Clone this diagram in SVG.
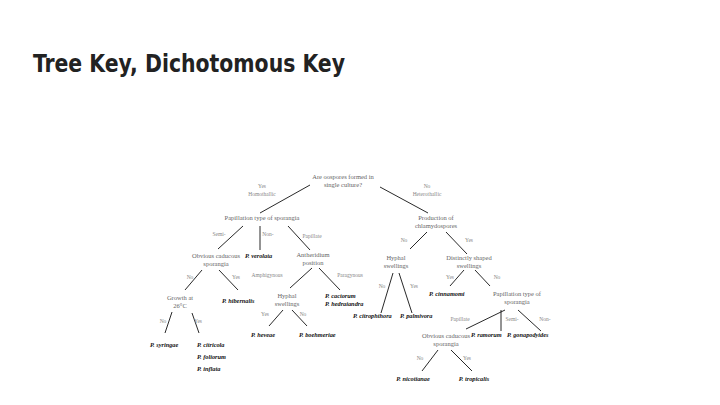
<svg xmlns="http://www.w3.org/2000/svg" width="720" height="405" viewBox="0 0 720 405">
<style>
.t{font-family:"Liberation Serif",serif;font-size:6.5px;fill:#666;text-anchor:middle}
.l{font-family:"Liberation Serif",serif;font-size:5.5px;fill:#888;text-anchor:middle}
.s{font-family:"Liberation Serif",serif;font-size:6.3px;font-style:italic;font-weight:bold;fill:#111}
.c line{stroke:#111;stroke-width:0.9}
</style>
<rect width="720" height="405" fill="#fff"/>
<text x="33" y="72" font-family="DejaVu Sans Condensed,sans-serif" font-weight="bold" font-size="25" fill="#222" textLength="312" lengthAdjust="spacingAndGlyphs">Tree Key, Dichotomous Key</text>
<g class="c" id="connectors">
<line x1="310" y1="185" x2="260" y2="213"/><line x1="380" y1="187" x2="428" y2="213"/>
<line x1="243" y1="226" x2="218" y2="249"/><line x1="260" y1="226" x2="260" y2="250"/><line x1="288" y1="226" x2="310" y2="250"/>
<line x1="202" y1="270" x2="185" y2="290"/><line x1="219" y1="270" x2="238" y2="290"/>
<line x1="172" y1="312" x2="165" y2="333"/><line x1="192" y1="313" x2="199" y2="333"/>
<line x1="312" y1="268" x2="290" y2="288"/><line x1="319" y1="268" x2="340" y2="290"/>
<line x1="283" y1="310" x2="269" y2="326"/><line x1="292" y1="310" x2="307" y2="326"/>
<line x1="427" y1="232" x2="410" y2="249"/><line x1="446" y1="232" x2="467" y2="254"/>
<line x1="393" y1="273" x2="381" y2="313"/><line x1="399" y1="273" x2="412" y2="313"/>
<line x1="464" y1="270" x2="450" y2="286"/><line x1="475" y1="270" x2="490" y2="286"/>
<line x1="505" y1="310" x2="466" y2="329"/><line x1="501" y1="310" x2="501" y2="331"/><line x1="518" y1="310" x2="541" y2="331"/>
<line x1="438" y1="350" x2="422" y2="371"/><line x1="451" y1="350" x2="472" y2="371"/>
</g>
<g class="l" id="edge-labels">
<text x="262" y="188">Yes</text><text x="262" y="196">Homothallic</text>
<text x="427" y="188">No</text><text x="427" y="196">Heterothallic</text>
<text x="219" y="236">Semi-</text><text x="268" y="236">Non-</text><text x="312" y="238">Papillate</text>
<text x="190" y="279">No</text><text x="236" y="279">Yes</text>
<text x="163" y="323">No</text><text x="198" y="323">Yes</text>
<text x="267" y="277">Amphigynous</text><text x="350" y="277">Paragynous</text>
<text x="265" y="316">Yes</text><text x="303" y="316">No</text>
<text x="404" y="242">No</text><text x="469" y="242">Yes</text>
<text x="382" y="288">No</text><text x="414" y="288">Yes</text>
<text x="450" y="279">Yes</text><text x="497" y="279">No</text>
<text x="460" y="321">Papillate</text><text x="512" y="321">Semi-</text><text x="545" y="321">Non-</text>
<text x="420" y="360">No</text><text x="467" y="360">Yes</text>
</g>
<g id="n-root" class="t"><text x="343" y="179">Are oospores formed in</text><text x="343" y="187">single culture?</text></g>
<g id="n-pap1" class="t"><text x="262" y="220">Papillation type of sporangia</text></g>
<g id="n-obv1" class="t"><text x="216" y="258">Obvious caducous</text><text x="216" y="266">sporangia</text></g>
<g id="n-ver"><text class="s" x="245" y="258">P. verolata</text></g>
<g id="n-anth" class="t"><text x="313" y="257">Antheridium</text><text x="313" y="265">position</text></g>
<g id="n-growth" class="t"><text x="180" y="300">Growth at</text><text x="180" y="308">26°C</text></g>
<g id="n-hib"><text class="s" x="222" y="303">P. hibernalis</text></g>
<g id="n-syr"><text class="s" x="150" y="347">P. syringae</text></g>
<g id="n-cit"><text class="s" x="197" y="347">P. citricola</text><text class="s" x="197" y="359">P. foliorum</text><text class="s" x="197" y="371">P. inflata</text></g>
<g id="n-hyph1" class="t"><text x="287" y="298">Hyphal</text><text x="287" y="306">swellings</text></g>
<g id="n-cact"><text class="s" x="325" y="298">P. cactorum</text><text class="s" x="325" y="306">P. hedraiandra</text></g>
<g id="n-hev"><text class="s" x="251" y="337">P. heveae</text></g>
<g id="n-boe"><text class="s" x="299" y="337">P. boehmeriae</text></g>
<g id="n-chl" class="t"><text x="436" y="220">Production of</text><text x="436" y="228">chlamydospores</text></g>
<g id="n-hyph2" class="t"><text x="396" y="260">Hyphal</text><text x="396" y="268">swellings</text></g>
<g id="n-dist" class="t"><text x="469" y="260">Distinctly shaped</text><text x="469" y="268">swellings</text></g>
<g id="n-citro"><text class="s" x="353" y="318">P. citrophthora</text></g>
<g id="n-palm"><text class="s" x="400" y="318">P. palmivora</text></g>
<g id="n-cinn"><text class="s" x="429" y="296">P. cinnamomi</text></g>
<g id="n-pap2" class="t"><text x="517" y="296">Papillation type of</text><text x="517" y="304">sporangia</text></g>
<g id="n-obv2" class="t"><text x="446" y="338">Obvious caducous</text><text x="446" y="346">sporangia</text></g>
<g id="n-ram"><text class="s" x="471" y="337">P. ramorum</text><text class="s" x="507" y="337">P. gonapodyides</text></g>
<g id="n-nic"><text class="s" x="413" y="381" text-anchor="middle">P. nicotianae</text></g>
<g id="n-trop"><text class="s" x="474" y="381" text-anchor="middle">P. tropicalis</text></g>
</svg>
